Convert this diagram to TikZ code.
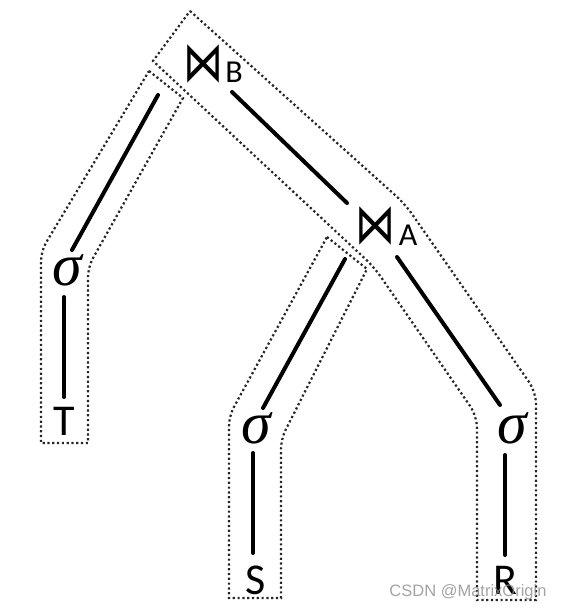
\documentclass[tikz,border=0pt]{standalone}
\usepackage{fontspec}
\usepackage{tikz}
\setmainfont{Carlito}
\newfontfamily\joinfont{DejaVu Sans}
\newfontfamily\selfont{Liberation Serif}
\newfontfamily\markfont{Liberation Sans}

\tikzset{
  joinsym/.style={inner sep=0pt, font=\joinfont\fontsize{40}{40}\selectfont, yscale=1.4, transform shape},
  selsym/.style={inner sep=0pt, font=\selfont\itshape\fontsize{60}{60}\selectfont},
  relname/.style={inner sep=0pt, font=\fontsize{44}{44}\selectfont},
  subname/.style={inner sep=0pt, font=\fontsize{32}{32}\selectfont},
  edge/.style={line width=4pt, line cap=round},
  region/.style={line width=2.2pt, dash pattern=on 2.2pt off 2.6pt, black!85}
}

\begin{document}
\begin{tikzpicture}[x=1pt,y=-1pt]
\useasboundingbox (0,0) rectangle (562,612);

% dotted regions
\draw[region] (190,11) [rounded corners=12pt] -- (405,204) -- (536,392) [sharp corners] -- (536,600) -- (477,600) [rounded corners=12pt] -- (477,416) -- (374,267) [sharp corners] -- (153,61) -- cycle;
\draw[region] (149,71) -- (183,98) [rounded corners=10pt] -- (88,267) [sharp corners] -- (88,443) -- (41,443) [rounded corners=10pt] -- (41,251) [sharp corners] -- cycle;
\draw[region] (327,237) -- (367,269) [rounded corners=10pt] -- (281,439) [sharp corners] -- (281,598) -- (229,598) [rounded corners=10pt] -- (229,416) [sharp corners] -- cycle;

% operators
\node[joinsym] (joinB) at (203,64) {⋈};
\node[subname] (subB) at (234,72) {B};
\node[joinsym] (joinA) at (375,226) {⋈};
\node[subname] (subA) at (408,235) {A};

\node[selsym] (selT) at (67,270) {σ};
\node[selsym] (selS) at (256,428) {σ};
\node[selsym] (selR) at (512,428) {σ};

\node[relname] (relT) at (64,421) {T};
\node[relname] (relS) at (256,580) {S};
\node[relname] (relR) at (505,580) {R};

% edges
\draw[edge] ([shift={(-45,31)}]joinB.center) -- ([shift={(5,-20)}]selT.center);
\draw[edge] ([shift={(29,28)}]joinB.center) -- ([shift={(-28,-23)}]joinA.center);
\draw[edge] ([shift={(-30,33)}]joinA.center) -- ([shift={(7,-20)}]selS.center);
\draw[edge] ([shift={(22,31)}]joinA.center) -- ([shift={(-12,-23)}]selR.center);
\draw[edge] ([shift={(-3,27)}]selT.center) -- ([shift={(0,-24)}]relT.center);
\draw[edge] ([shift={(-3,25)}]selS.center) -- ([shift={(-3,-27)}]relS.center);
\draw[edge] ([shift={(-7,27)}]selR.center) -- ([shift={(0,-25)}]relR.center);

\node[font=\markfont\fontsize{16.5}{16.5}\selectfont, text=black!45, opacity=0.8, inner sep=0pt] (mark) at (468,592) {CSDN @MatrixOrigin};
\end{tikzpicture}
\end{document}
